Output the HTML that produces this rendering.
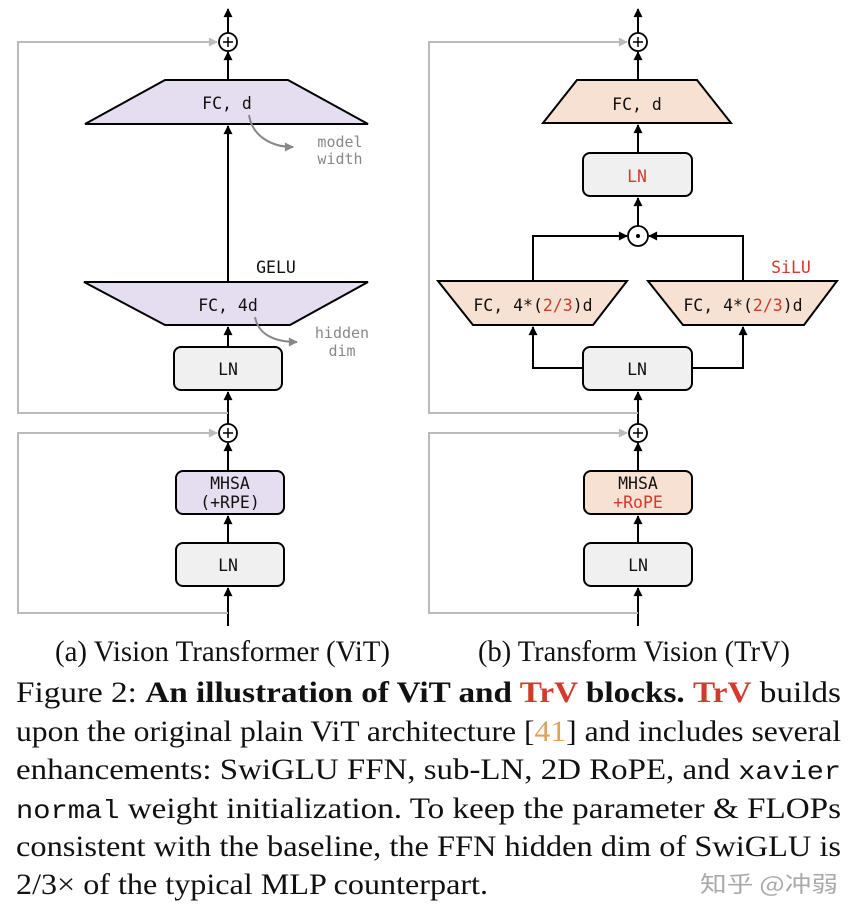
<!DOCTYPE html>
<html><head><meta charset="utf-8"><style>
html,body{margin:0;padding:0;background:#fff;}
svg{display:block;}
.m{font-family:"DejaVu Sans Mono","Liberation Mono",monospace;font-size:16.5px;fill:#111;}
.g{font-family:"DejaVu Sans Mono","Liberation Mono",monospace;font-size:15px;fill:#888;}
.s{font-family:"Liberation Serif",serif;font-size:30px;fill:#111;}
.r{fill:#d23a2e;}
</style></head><body>
<svg width="852" height="918" viewBox="0 0 852 918" xmlns="http://www.w3.org/2000/svg">
<defs>
<marker id="a" viewBox="0 0 10 10" refX="9" refY="5" markerWidth="10" markerHeight="9" markerUnits="userSpaceOnUse" orient="auto"><path d="M0,0L10,5L0,10z" fill="#000"/></marker>
<marker id="ag" viewBox="0 0 10 10" refX="9" refY="5" markerWidth="10" markerHeight="9" markerUnits="userSpaceOnUse" orient="auto"><path d="M0,0L10,5L0,10z" fill="#bbb"/></marker>
<marker id="ag2" viewBox="0 0 10 10" refX="9" refY="5" markerWidth="10" markerHeight="9" markerUnits="userSpaceOnUse" orient="auto"><path d="M0,0L10,5L0,10z" fill="#888"/></marker>
</defs>
<g stroke="#000" stroke-width="2" fill="none">
<line x1="228" y1="33" x2="228" y2="9" marker-end="url(#a)"/>
<line x1="228" y1="80" x2="228" y2="52" marker-end="url(#a)"/>
<line x1="228" y1="282" x2="228" y2="126" marker-end="url(#a)"/>
<line x1="228" y1="347" x2="228" y2="327" marker-end="url(#a)"/>
<line x1="228" y1="424" x2="228" y2="392" marker-end="url(#a)"/>
<line x1="228" y1="471" x2="228" y2="443" marker-end="url(#a)"/>
<line x1="228" y1="543" x2="228" y2="516" marker-end="url(#a)"/>
<line x1="228" y1="626" x2="228" y2="588" marker-end="url(#a)"/>
<line x1="638" y1="33" x2="638" y2="9" marker-end="url(#a)"/>
<line x1="638" y1="80" x2="638" y2="52" marker-end="url(#a)"/>
<line x1="638" y1="153" x2="638" y2="125" marker-end="url(#a)"/>
<line x1="638" y1="227" x2="638" y2="198" marker-end="url(#a)"/>
<polyline points="533,281 533,236 627,236" marker-end="url(#a)"/>
<polyline points="743,281 743,236 649,236" marker-end="url(#a)"/>
<polyline points="583,368 533,368 533,327" marker-end="url(#a)"/>
<polyline points="692,368 743,368 743,327" marker-end="url(#a)"/>
<line x1="638" y1="424" x2="638" y2="392" marker-end="url(#a)"/>
<line x1="638" y1="471" x2="638" y2="443" marker-end="url(#a)"/>
<line x1="638" y1="543" x2="638" y2="516" marker-end="url(#a)"/>
<line x1="638" y1="626" x2="638" y2="588" marker-end="url(#a)"/>
</g>
<g stroke="#bbb" stroke-width="2" fill="none">
<polyline points="228,413 18,413 18,42 217,42" marker-end="url(#ag)"/>
<polyline points="228,613 18,613 18,433 217,433" marker-end="url(#ag)"/>
<polyline points="638,413 429,413 429,42 627,42" marker-end="url(#ag)"/>
<polyline points="638,613 429,613 429,433 627,433" marker-end="url(#ag)"/>
</g>
<g stroke="#000" stroke-width="2">
<polygon points="165,80 288,80 368,124 85,124" fill="#e4def0"/>
<polygon points="84,282 368,282 290,325 165,325" fill="#e4def0"/>
<rect x="174" y="347" width="108" height="43" rx="7" fill="#f0f0f0"/>
<rect x="176" y="471" width="108" height="43" rx="7" fill="#e4def0"/>
<rect x="176" y="543" width="108" height="43" rx="7" fill="#f0f0f0"/>
<polygon points="577,80 697,80 731,123 543,123" fill="#f7e1d2"/>
<rect x="583" y="153" width="109" height="43" rx="7" fill="#f0f0f0"/>
<polygon points="438,281 627,281 593,325 473,325" fill="#f7e1d2"/>
<polygon points="648,281 837,281 804,325 683,325" fill="#f7e1d2"/>
<rect x="583" y="347" width="109" height="43" rx="7" fill="#f0f0f0"/>
<rect x="584" y="471" width="108" height="43" rx="7" fill="#f7e1d2"/>
<rect x="584" y="543" width="108" height="43" rx="7" fill="#f0f0f0"/>
</g>
<g stroke="#000" stroke-width="1.8" fill="#fff">
<circle cx="228" cy="42" r="9"/><circle cx="228" cy="433" r="9"/>
<circle cx="638" cy="42" r="9"/><circle cx="638" cy="433" r="9"/>
<circle cx="638" cy="236" r="10"/>
</g>
<g stroke="#000" stroke-width="1.5">
<path d="M223,42h10M228,37v10M223,433h10M228,428v10M633,42h10M638,37v10M633,433h10M638,428v10"/>
</g>
<circle cx="638" cy="236" r="2" fill="#000"/>
<g stroke="#888" stroke-width="2" fill="none">
<path d="M249,115 C252,135 270,147 293,147" marker-end="url(#ag2)"/>
<path d="M255,317 C258,333 272,342 297,342" marker-end="url(#ag2)"/>
</g>
<g class="m" text-anchor="middle">
<text x="227" y="109">FC, d</text>
<text x="228" y="311">FC, 4d</text>
<text x="276" y="273">GELU</text>
<text x="228" y="375">LN</text>
<text x="230" y="489">MHSA</text>
<text x="230" y="508">(+RPE)</text>
<text x="228" y="571">LN</text>
<text x="637" y="110">FC, d</text>
<text x="637" y="182" class="m r">LN</text>
<text x="533" y="311">FC, 4*(<tspan class="r">2/3</tspan>)d</text>
<text x="743" y="311">FC, 4*(<tspan class="r">2/3</tspan>)d</text>
<text x="791" y="273" class="m r">SiLU</text>
<text x="637" y="375">LN</text>
<text x="638" y="489">MHSA</text>
<text x="638" y="508" class="m r">+RoPE</text>
<text x="638" y="571">LN</text>
</g>
<g class="g" text-anchor="middle">
<text x="340" y="147">model</text><text x="340" y="164">width</text>
<text x="342" y="338">hidden</text><text x="342" y="356">dim</text>
</g>
<text class="s" x="55" y="661" textLength="335" lengthAdjust="spacingAndGlyphs">(a) Vision Transformer (ViT)</text>
<text class="s" x="478" y="661" textLength="312" lengthAdjust="spacingAndGlyphs">(b) Transform Vision (TrV)</text>
<text class="s" x="16" y="702" textLength="825" lengthAdjust="spacingAndGlyphs">Figure 2: <tspan font-weight="bold">An illustration of ViT and <tspan class="r">TrV</tspan> blocks.</tspan> <tspan font-weight="bold" class="r">TrV</tspan> builds</text>
<text class="s" x="16" y="741" textLength="825" lengthAdjust="spacingAndGlyphs">upon the original plain ViT architecture [<tspan fill="#e0a060">41</tspan>] and includes several</text>
<text class="s" x="16" y="779" textLength="825" lengthAdjust="spacingAndGlyphs">enhancements: SwiGLU FFN, sub-LN, 2D RoPE, and <tspan font-family="Liberation Mono, monospace" font-size="26">xavier</tspan></text>
<text class="s" x="16" y="818" textLength="825" lengthAdjust="spacingAndGlyphs"><tspan font-family="Liberation Mono, monospace" font-size="26">normal</tspan> weight initialization. To keep the parameter &amp; FLOPs</text>
<text class="s" x="16" y="856" textLength="825" lengthAdjust="spacingAndGlyphs">consistent with the baseline, the FFN hidden dim of SwiGLU is</text>
<text class="s" x="16" y="894" textLength="472" lengthAdjust="spacingAndGlyphs">2/3× of the typical MLP counterpart.</text>
<text x="700" y="892" font-family="'Noto Sans CJK SC',sans-serif" font-size="22" fill="#aaa" textLength="138" lengthAdjust="spacingAndGlyphs">知乎 @冲弱</text>
</svg>
</body></html>
